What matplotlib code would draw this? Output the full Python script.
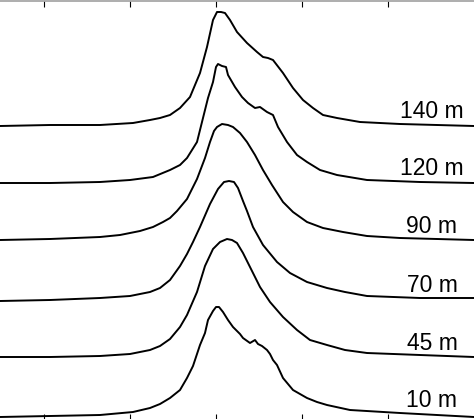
"""Stacked line profiles at six depths (waterfall style)."""
import matplotlib

matplotlib.use("Agg")
import matplotlib.pyplot as plt

# depth labels, top to bottom
depths = ["140 m", "120 m", "90 m", "70 m", "45 m", "10 m"]

# profiles (already stacked), x in channels from line centre
x_140 = [-216, -166, -116, -83, -66, -56, -46, -36, -26, -16, -9, -3, 1, 5, 9, 14,
         21, 31, 41, 47, 52, 57, 67, 77, 87, 97, 107, 121, 144, 184, 258]
y_140 = [293, 294, 294, 296, 299, 301, 304, 311, 322, 346, 372, 399, 407, 407, 406, 399,
         387, 376, 367, 362, 361, 359, 346, 331, 319, 311, 304, 301, 297, 295, 293]

x_120 = [-216, -166, -116, -86, -63, -46, -36, -29, -19, -13, -8, -3, 0, 2, 6, 10, 12,
         19, 26, 32, 39, 44, 51, 57, 62, 71, 81, 91, 104, 121, 151, 204, 258]
y_120 = [236, 236, 237, 239, 242, 249, 254, 261, 277, 301, 321, 337, 352, 355, 353, 352, 344,
         332, 322, 316, 311, 312, 307, 304, 292, 277, 264, 257, 249, 244, 239, 237, 236]

x_90 = [-216, -166, -116, -96, -76, -63, -53, -46, -39, -29, -19, -11, -6, -2, 1, 6, 12,
        17, 24, 31, 39, 47, 56, 67, 77, 91, 107, 127, 151, 184, 258]
y_90 = [179, 180, 182, 184, 188, 192, 197, 201, 208, 220, 240, 261, 277, 288, 292, 295, 294,
        292, 286, 277, 264, 249, 234, 217, 207, 197, 191, 187, 183, 181, 179]

x_70 = [-216, -166, -116, -86, -66, -56, -46, -36, -29, -23, -16, -6, 2, 8, 13, 18, 22,
        27, 31, 37, 47, 61, 74, 91, 111, 129, 151, 204, 258]
y_70 = [118, 119, 121, 123, 127, 131, 139, 153, 165, 177, 192, 215, 230, 237, 238, 237, 231,
        218, 208, 192, 174, 157, 146, 137, 131, 127, 123, 121, 121]

x_45 = [-216, -166, -116, -86, -66, -56, -46, -36, -29, -19, -11, -3, 4, 11, 16, 21, 27,
        34, 44, 54, 67, 81, 94, 111, 129, 151, 204, 258]
y_45 = [62, 62, 63, 65, 69, 73, 80, 92, 104, 127, 153, 170, 177, 180, 179, 176, 166,
        152, 132, 117, 102, 89, 79, 74, 69, 66, 64, 62]

x_10 = [-216, -166, -116, -83, -66, -56, -46, -36, -29, -23, -16, -11, -8, -3, 0, 3, 7,
        12, 17, 24, 27, 34, 39, 42, 46, 51, 54, 57, 61, 67, 77, 91, 101, 111, 134, 184, 258]
y_10 = [2, 3, 4, 7, 11, 15, 21, 29, 41, 53, 74, 86, 99, 108, 112, 112, 107,
        99, 92, 85, 81, 76, 79, 75, 73, 69, 65, 59, 54, 41, 29, 21, 17, 14, 9, 6, 2]

# label baselines (same units as the profiles)
label_y = [301, 244, 186, 127, 69, 12]
label_x = 216

xs = [x_140, x_120, x_90, x_70, x_45, x_10]
ys = [y_140, y_120, y_90, y_70, y_45, y_10]

W, H = 474, 419
fig = plt.figure(figsize=(W / 100, H / 100), dpi=100)
# axes frame runs past the picture on left, right and bottom
ax = fig.add_axes([-14 / W, -1 / H, 502 / W, (420 - 0.5) / H])
ax.set_xlim(-230, 272)
ax.set_ylim(-1, 418.5)

for x, y in zip(xs, ys):
    ax.plot(x, y, color="black", linewidth=1.4, solid_joinstyle="round")

for lab, ly in zip(depths, label_y):
    ax.text(label_x, ly, lab, ha="center", va="baseline", fontsize=16.5,
            family=["Liberation Sans", "DejaVu Sans"])

ax.set_xticks([-172, -86, 0, 86, 172])
ax.set_yticks([])
ax.tick_params(axis="x", top=True, bottom=True, direction="in", length=4.5,
               width=0.8, labelbottom=False)
ax.spines["top"].set_color("#a0a0a0")
ax.spines["top"].set_linewidth(1.2)

fig.savefig("out.png", dpi=100, facecolor="white")
